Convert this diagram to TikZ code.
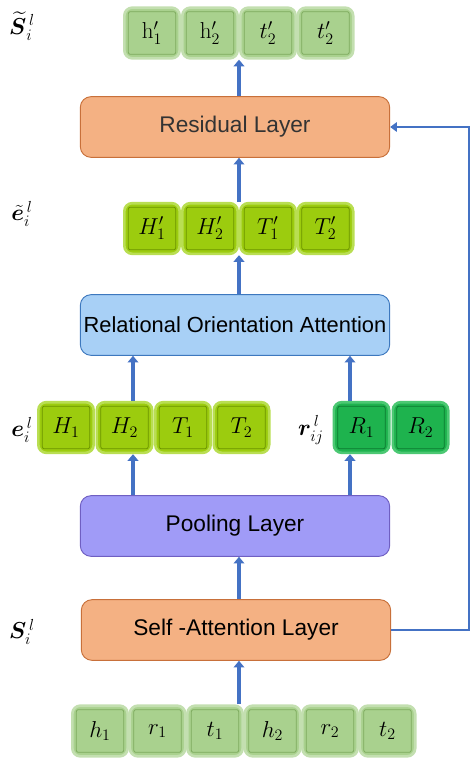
\documentclass[tikz,border=0pt]{standalone}
\usepackage{amsmath,bm}
\usepackage{fontspec}
\newfontfamily\lsans{Liberation Sans}
\usetikzlibrary{arrows.meta}
\definecolor{lgfill}{HTML}{A9D18E}
\definecolor{lgedge}{HTML}{C3DFB0}
\definecolor{lginner}{HTML}{7DAA5E}
\definecolor{ygfill}{HTML}{9CCC0E}
\definecolor{ygedge}{HTML}{B9DE52}
\definecolor{yginner}{HTML}{6C9400}
\definecolor{rfill}{HTML}{1EB34E}
\definecolor{redge}{HTML}{4CC873}
\definecolor{rinner}{HTML}{0C7A30}
\definecolor{orfill}{HTML}{F4B183}
\definecolor{oredge}{HTML}{C8703A}
\definecolor{blfill}{HTML}{A8D0F6}
\definecolor{bledge}{HTML}{3D78BE}
\definecolor{pufill}{HTML}{A09BF7}
\definecolor{puedge}{HTML}{6F5FC2}
\definecolor{arrowc}{HTML}{4472C4}
\tikzset{
  cellbox/.style={rounded corners=6pt, line width=2pt, minimum width=41.5pt, minimum height=38pt, inner sep=0pt, font=\LARGE},
  layerbox/.style={rounded corners=8pt, line width=0.7pt, minimum width=232pt, minimum height=45.5pt, inner xsep=0pt, font=\lsans\fontsize{17}{20}\selectfont},
  uparrow/.style={draw=arrowc, line width=2.8pt, -{Triangle[width=8pt,length=5pt]}},
  fbline/.style={draw=arrowc, line width=1.8pt, -{Triangle[width=7pt,length=5pt]}},
  lab/.style={font=\LARGE}
}
\newcommand\cell[5]{% name, x, y, colour prefix, text
  \node[cellbox, fill=#4fill, draw=#4edge] (#1) at (#2,#3) {#5};
  \draw[#4inner, line width=0.6pt, rounded corners=1.5pt]
    ([shift={(4pt,-4pt)}]#1.north west) rectangle ([shift={(-4pt,4pt)}]#1.south east);
}
\begin{document}
\begin{tikzpicture}[x=0.75pt,y=-0.75pt]
\useasboundingbox (0,0) rectangle (474,764);
\coordinate (xc) at (239,0);
\coordinate (xl) at (133,0);
\coordinate (xr) at (350,0);
\coordinate (xf) at (469,0);
% top row
\cell{ta}{152}{33}{lg}{$\mathrm{h}'_1$}
\cell{tb}{210}{33}{lg}{$\mathrm{h}'_2$}
\cell{tc}{268}{33}{lg}{$t'_2$}
\cell{td}{325.5}{33}{lg}{$t'_2$}
% residual
\node[layerbox, fill=orfill, draw=oredge, text=black!80] (res) at (235,127) {Residual Layer};
% H' row
\cell{ha}{152}{228.5}{yg}{$H'_1$}
\cell{hb}{210}{228.5}{yg}{$H'_2$}
\cell{hc}{268}{228.5}{yg}{$T'_1$}
\cell{hd}{325.5}{228.5}{yg}{$T'_2$}
% ROA
\node[layerbox, fill=blfill, draw=bledge, font=\lsans\fontsize{16.4}{20}\selectfont] (roa) at (235,325) {Relational Orientation Attention};
% e row
\cell{ea}{66}{427.5}{yg}{$H_1$}
\cell{eb}{124.5}{427.5}{yg}{$H_2$}
\cell{ec}{183}{427.5}{yg}{$T_1$}
\cell{ed}{241.5}{427.5}{yg}{$T_2$}
\cell{ra}{361.5}{427.5}{r}{$R_1$}
\cell{rb}{420.5}{427.5}{r}{$R_2$}
% pooling
\node[layerbox, fill=pufill, draw=puedge] (pool) at (235,526) {Pooling Layer};
% self attention
\node[layerbox, fill=orfill, draw=oredge] (sa) at (236,630) {Self -Attention Layer};
% bottom row
\cell{ba}{100}{731}{lg}{$h_1$}
\cell{bb}{157.5}{731}{lg}{$r_1$}
\cell{bc}{215}{731}{lg}{$t_1$}
\cell{bd}{272.5}{731}{lg}{$h_2$}
\cell{be}{330}{731}{lg}{$r_2$}
\cell{bf}{387.5}{731}{lg}{$t_2$}
% labels
\node[lab] (l1) at (22,26) {$\widetilde{\bm{S}}{}_i^{\,l}$};
\node[lab] (l2) at (22,214) {$\tilde{\bm{e}}{}_i^{\,l}$};
\node[lab] (l3) at (22,430) {$\bm{e}_i^{\,l}$};
\node[lab] (l4) at (311,430) {$\bm{r}_{ij}^{\,l}$};
\node[lab] (l5) at (22,632) {$\bm{S}_i^{\,l}$};
% arrows
\draw[uparrow] (bc.north -| xc) -- (sa.south -| xc);
\draw[uparrow] (sa.north -| xc) -- (pool.south -| xc);
\draw[uparrow] (pool.north -| xl) -- (eb.south -| xl);
\draw[uparrow] (pool.north -| xr) -- (ra.south -| xr);
\draw[uparrow] (eb.north -| xl) -- (roa.south -| xl);
\draw[uparrow] (ra.north -| xr) -- (roa.south -| xr);
\draw[uparrow] (roa.north -| xc) -- (hb.south -| xc);
\draw[uparrow] (hb.north -| xc) -- (res.south -| xc);
\draw[uparrow] (res.north -| xc) -- (tb.south -| xc);
\draw[fbline] (sa.east) -- (sa.east -| xf) -- (res.east -| xf) -- (res.east);
\end{tikzpicture}
\end{document}
